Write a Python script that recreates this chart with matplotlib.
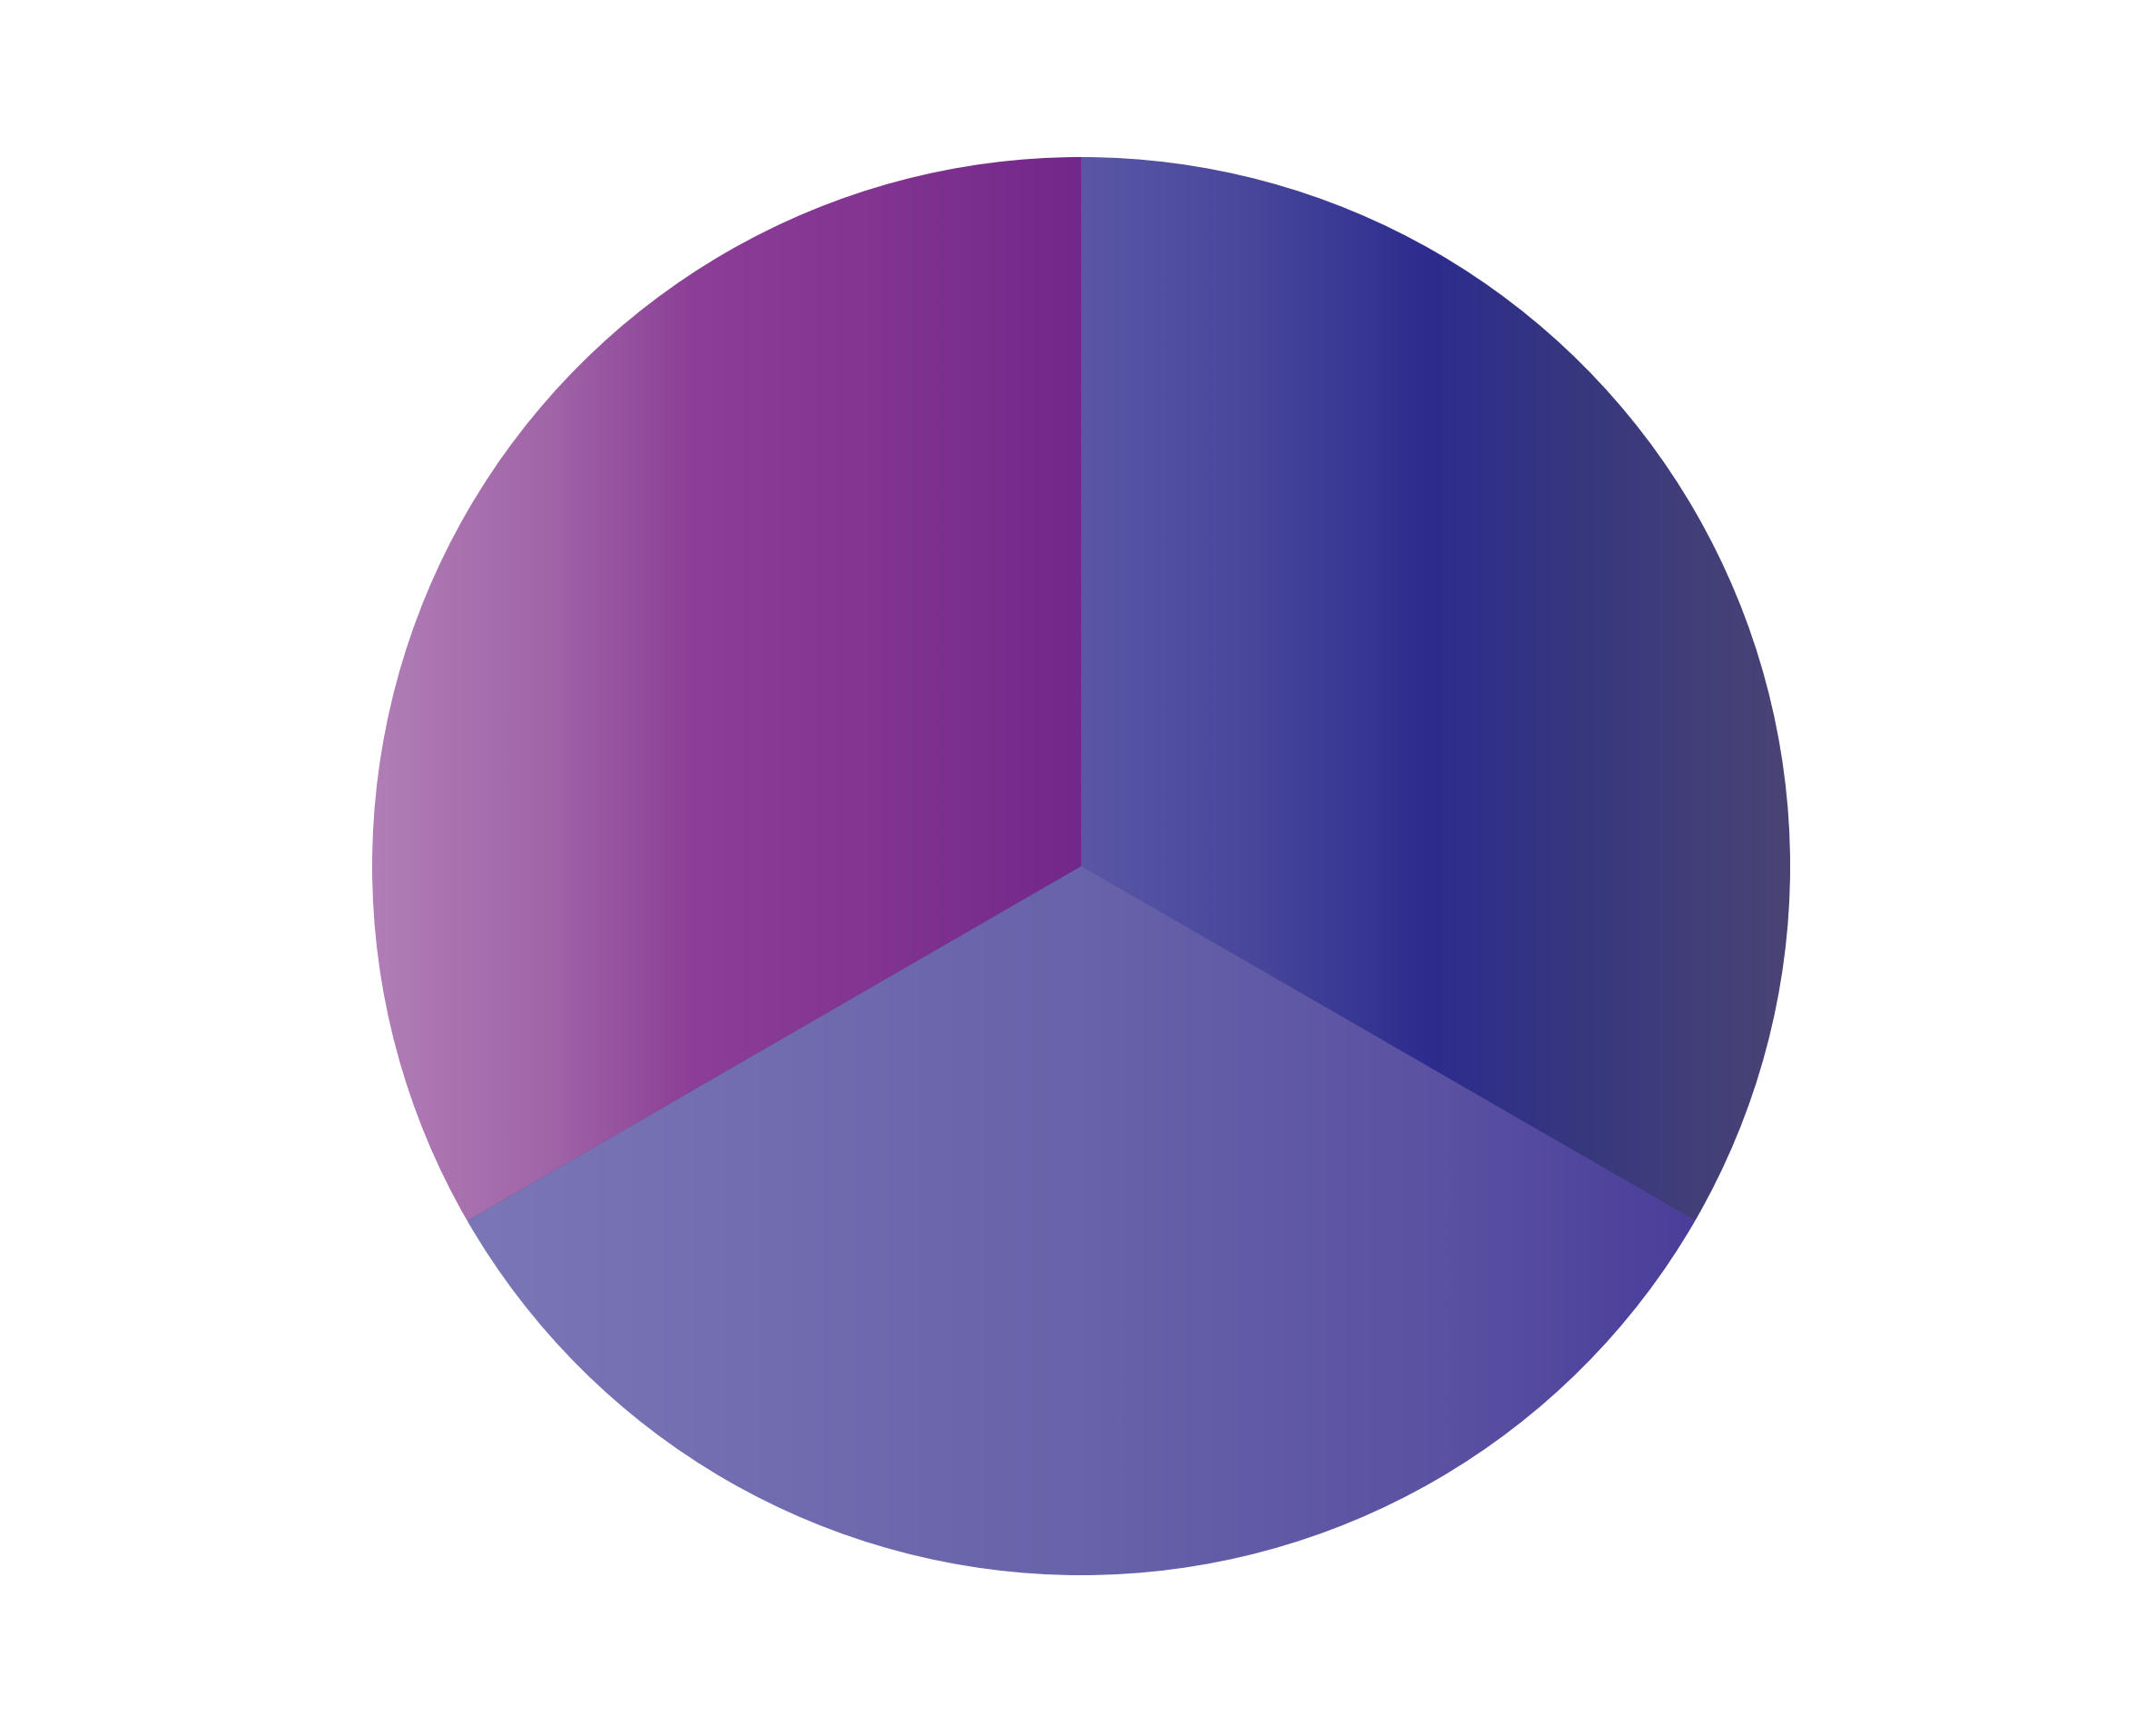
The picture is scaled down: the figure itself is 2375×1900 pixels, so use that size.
import numpy as np
import matplotlib.pyplot as plt
from matplotlib.colors import LinearSegmentedColormap
from matplotlib.patches import Circle

# three equal slices, clockwise from 12 o'clock
shares = [1, 1, 1]
slice_names = ["A", "B", "C"]

# horizontal gradient stops per slice (position, colour)
grad_top_right = [(0.0, "#5a57a6"), (0.25, "#47469b"), (0.49, "#2d2c8e"), (0.7, "#37377f"), (1.0, "#4a4474")]
grad_bottom = [(0.0, "#7b76b6"), (0.5, "#6863aa"), (0.8, "#5a51a2"), (1.0, "#4a3e9a")]
grad_top_left = [(0.0, "#b17eb7"), (0.25, "#a065a7"), (0.45, "#8c3f97"), (0.7, "#823591"), (1.0, "#73278a")]
gradients = [grad_top_right, grad_bottom, grad_top_left]

cx, cy, r = 1191, 954, 781
fig = plt.figure(figsize=(23.75, 19.0), dpi=100)
ax = fig.add_axes([(cx - r) / 2375, (1900 - cy - r) / 1900, 2 * r / 2375, 2 * r / 1900])

wedges, _ = ax.pie(shares, startangle=90, counterclock=False, radius=1.0,
                   colors=["none"] * 3, wedgeprops=dict(linewidth=0))

# fill under the gradients so the clip seams don't show white
ax.add_patch(Circle((0, 0), 0.999, facecolor="#5e4f9f", edgecolor="none", zorder=1))

ramp = np.linspace(0, 1, 512).reshape(1, -1)
for w, stops in zip(wedges, gradients):
    cmap = LinearSegmentedColormap.from_list("g", stops)
    verts = w.get_patch_transform().transform(w.get_path().vertices)
    x0, x1 = verts[:, 0].min(), verts[:, 0].max()
    y0, y1 = verts[:, 1].min(), verts[:, 1].max()
    im = ax.imshow(ramp, cmap=cmap, aspect="auto", extent=[x0, x1, y0, y1],
                   interpolation="bilinear", zorder=2)
    im.set_clip_path(w)

ax.set_xlim(-1, 1)
ax.set_ylim(-1, 1)
ax.set_aspect("equal")
ax.axis("off")

fig.savefig("out.png", dpi=100, facecolor="white")
